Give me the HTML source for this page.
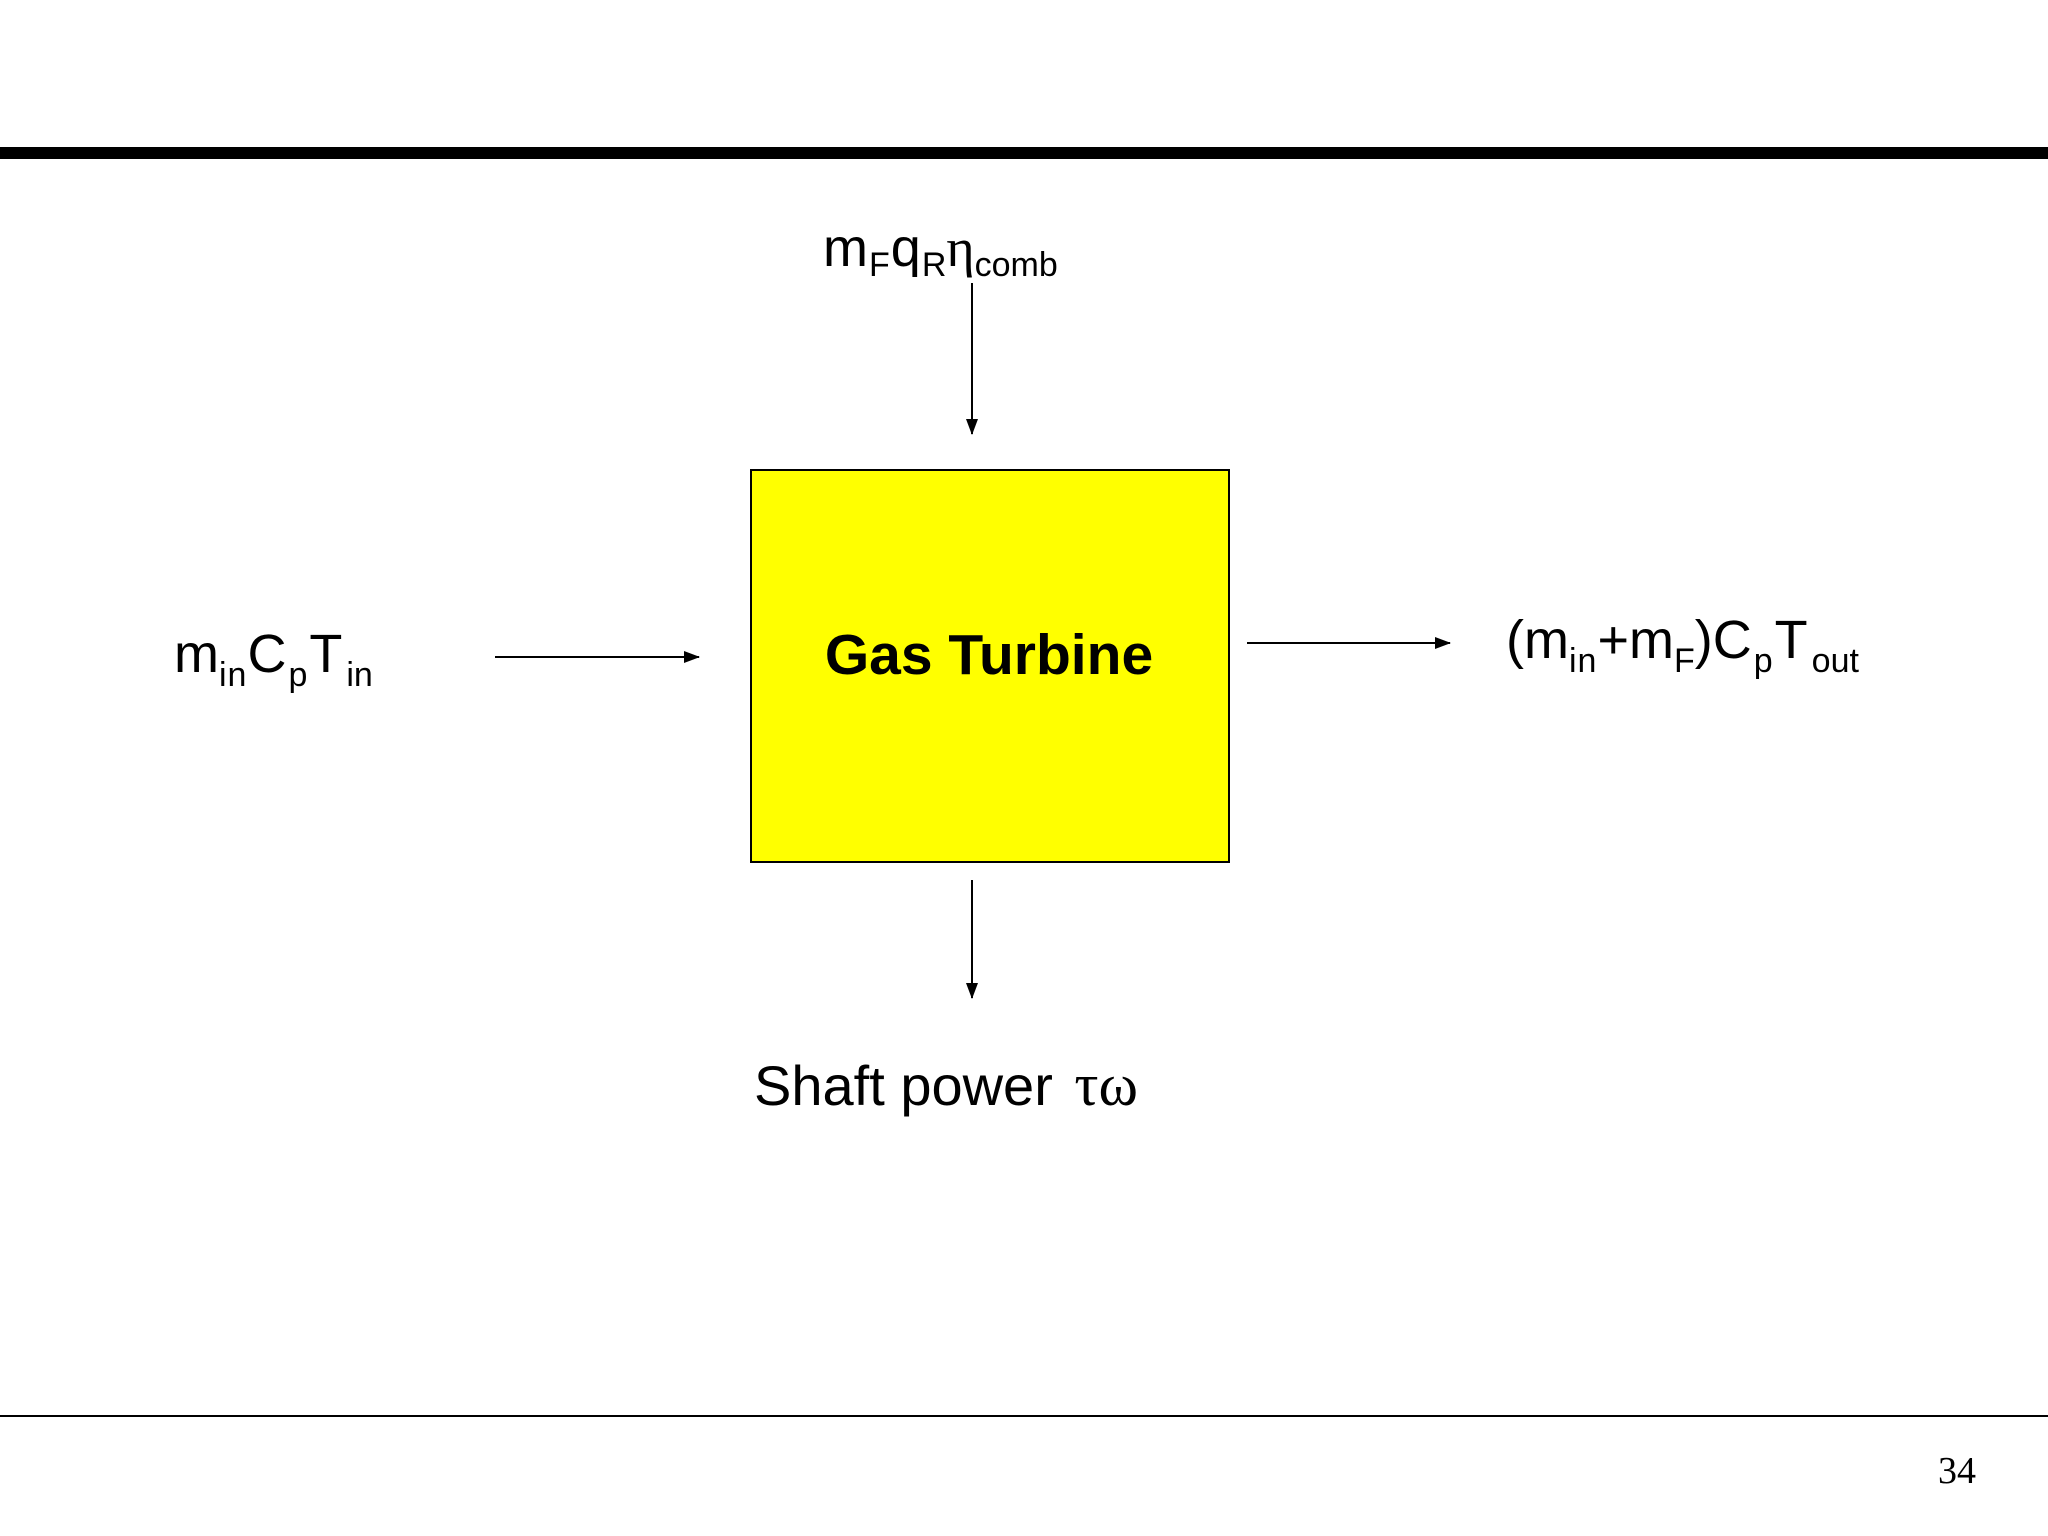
<!DOCTYPE html>
<html><head><meta charset="utf-8"><style>
html,body{margin:0;padding:0;background:#fff;}
svg{display:block;}
text{font-family:"Liberation Sans",Arial,sans-serif;fill:#000;}
</style></head><body>
<svg width="2048" height="1536" viewBox="0 0 2048 1536" xmlns="http://www.w3.org/2000/svg">
<defs><marker id="b" markerWidth="16" markerHeight="16" refX="15" refY="8" orient="auto" markerUnits="userSpaceOnUse">
<path d="M0,2 L16,8 L0,14 z" fill="#000"/></marker></defs>
<rect x="0" y="147" width="2048" height="12" fill="#000"/>
<rect x="0" y="1415" width="2048" height="2" fill="#000"/>
<rect x="751" y="470" width="478" height="392" fill="#ffff00" stroke="#000" stroke-width="2"/>
<text x="989" y="674" font-size="57" font-weight="bold" text-anchor="middle">Gas Turbine</text>
<line x1="972" y1="283" x2="972" y2="434" stroke="#000" stroke-width="2" marker-end="url(#b)"/>
<line x1="495" y1="657" x2="699" y2="657" stroke="#000" stroke-width="2" marker-end="url(#b)"/>
<line x1="1247" y1="643" x2="1450" y2="643" stroke="#000" stroke-width="2" marker-end="url(#b)"/>
<line x1="972" y1="880" x2="972" y2="998" stroke="#000" stroke-width="2" marker-end="url(#b)"/>
<text x="823" y="266" font-size="54">m<tspan font-size="34" dy="10" dx="1">F</tspan><tspan dy="-10" dx="1">q</tspan><tspan font-size="34" dy="10" dx="1">R</tspan><tspan dy="-10" font-family="Liberation Serif,serif">η</tspan><tspan font-size="34" dy="10">comb</tspan></text>
<text x="174" y="672" font-size="54">m<tspan font-size="34" dy="14" letter-spacing="1">in</tspan><tspan dy="-14">C</tspan><tspan font-size="34" dy="14" dx="2">p</tspan><tspan dy="-14" dx="2">T</tspan><tspan font-size="34" dy="14" dx="4">in</tspan></text>
<text x="1506" y="658" font-size="54">(m<tspan font-size="34" dy="14" letter-spacing="1">in</tspan><tspan dy="-14">+m</tspan><tspan font-size="34" dy="14">F</tspan><tspan dy="-14">)C</tspan><tspan font-size="34" dy="14" dx="2">p</tspan><tspan dy="-14" dx="2">T</tspan><tspan font-size="34" dy="14" dx="4">out</tspan></text>
<text x="754" y="1105" font-size="56">Shaft power <tspan font-family="Liberation Serif,serif" font-size="60" dx="6">τω</tspan></text>
<text x="1957" y="1483" font-size="38" text-anchor="middle" style="font-family:'Liberation Serif',serif">34</text>
</svg>
</body></html>
